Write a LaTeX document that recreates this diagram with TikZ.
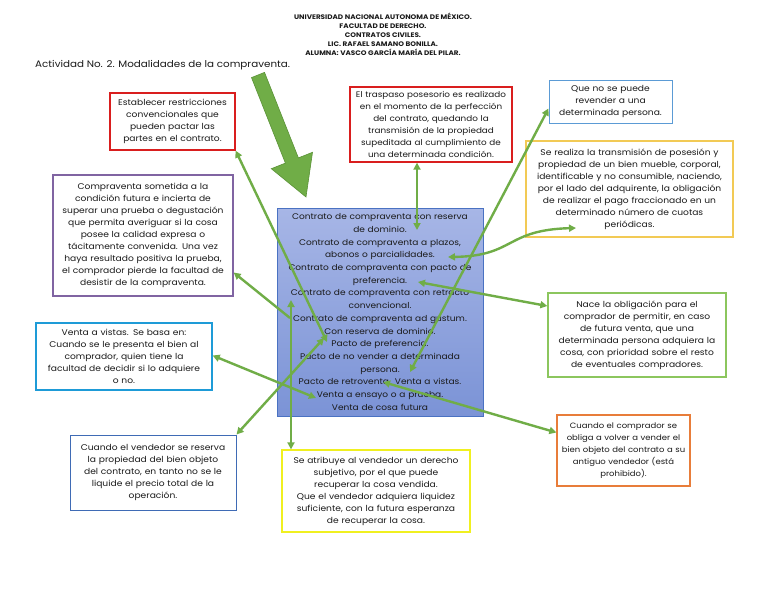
\documentclass[tikz,border=0pt]{standalone}
\usepackage{fontspec}
\setmainfont{Poppins}[FakeStretch=1.1]
\usetikzlibrary{arrows.meta,calc}
\definecolor{agreen}{HTML}{70AD47}
\definecolor{agreendark}{HTML}{5A9236}
\definecolor{cred}{HTML}{D91E1E}
\definecolor{cblue}{HTML}{5B9BD5}
\definecolor{cgold}{HTML}{F2CA55}
\definecolor{cpurple}{HTML}{8064A2}
\definecolor{cgreen}{HTML}{8CC65E}
\definecolor{ccyan}{HTML}{1E9BD7}
\definecolor{cnavy}{HTML}{3F6BB5}
\definecolor{cyellow}{HTML}{F0F020}
\definecolor{corange}{HTML}{E87D3A}
\definecolor{mtop}{HTML}{A7B6E6}
\definecolor{mbot}{HTML}{7B93D6}
\definecolor{mborder}{HTML}{4A72C2}
\definecolor{txt}{HTML}{1A1A1A}
\tikzset{
  box/.style={draw, line width=1.3pt, fill=white, rectangle, inner sep=1pt, align=center, text=txt,
    font=\fontsize{8.3}{12}\selectfont},
  conn/.style={draw=agreen, line width=2.4pt, {Triangle[length=7pt,width=7pt]}-{Triangle[length=7pt,width=7pt]}},
  conn1/.style={draw=agreen, line width=2.4pt, {Triangle[length=7pt,width=7pt]}-},
}
\begin{document}
\begin{tikzpicture}[x=1pt,y=-1pt]
\useasboundingbox (0,0) rectangle (768,594);
\fill[white] (0,0) rectangle (768,594);

\node[font=\bfseries\fontsize{6.6}{9}\selectfont, align=center, text=txt] (hdr) at (383,34)
 {UNIVERSIDAD NACIONAL AUTONOMA DE MÉXICO.\\FACULTAD DE DERECHO.\\CONTRATOS CIVILES.\\LIC. RAFAEL SAMANO BONILLA.\\ALUMNA: VASCO GARCÍA MARÍA DEL PILAR.};
\node[anchor=west, font=\fontsize{9.4}{11}\selectfont, text=txt, inner sep=0pt] (title) at (35,65)
 {Actividad No. 2. Modalidades de la compraventa.};

% big arrow
\filldraw[fill=agreen, draw=agreendark, line width=0.6pt]
 (264.5,72.4) -- (298.4,157.9) -- (312.5,152.3) -- (306,197) -- (271.3,168.7) -- (285.4,163.1) -- (251.5,77.6) -- cycle;

% boxes
\node[box, draw=cred, minimum width=125pt, minimum height=57pt, text width=123pt] (r1) at (172.5,121.5)
 {Establecer restricciones\\convencionales que\\pueden pactar las\\partes en el contrato.};
\node[box, draw=cred, minimum width=162pt, minimum height=75pt, text width=160pt, font=\fontsize{8}{12}\selectfont] (r2) at (431,124.5)
 {El traspaso posesorio es realizado\\en el momento de la perfección\\del contrato, quedando la\\transmisión de la propiedad\\supeditada al cumplimiento de\\una determinada condición.};
\node[box, draw=cblue, line width=1pt, minimum width=123pt, minimum height=43pt, text width=121pt] (b1) at (610.5,101.5)
 {Que no se puede\\revender a una\\determinada persona.};
\node[box, draw=cgold, minimum width=207pt, minimum height=96pt, text width=205pt] (y1) at (629.5,189)
 {Se realiza la transmisión de posesión y\\propiedad de un bien mueble, corporal,\\identificable y no consumible, naciendo,\\por el lado del adquirente, la obligación\\de realizar el pago fraccionado en un\\determinado número de cuotas\\periódicas.};
\node[box, draw=cpurple, minimum width=180pt, minimum height=121pt, text width=178pt] (p1) at (143,235.5)
 {Compraventa sometida a la\\condición futura e incierta de\\superar una prueba o degustación\\que permita averiguar si la cosa\\posee la calidad expresa o\\tácitamente convenida. Una vez\\haya resultado positiva la prueba,\\el comprador pierde la facultad de\\desistir de la compraventa.};
\node[box, draw=mborder, line width=0.8pt, top color=mtop, bottom color=mbot, minimum width=206pt, minimum height=208pt, text width=204pt,
  font=\fontsize{8.2}{12.7}\selectfont] (m) at (380,312)
 {Contrato de compraventa con reserva\\de dominio.\\Contrato de compraventa a plazos,\\abonos o parcialidades.\\Contrato de compraventa con pacto de\\preferencia.\\Contrato de compraventa con retracto\\convencional.\\Contrato de compraventa ad gustum.\\Con reserva de dominio.\\Pacto de preferencia.\\Pacto de no vender a determinada\\persona.\\Pacto de retroventa. Venta a vistas.\\Venta a ensayo o a prueba.\\Venta de cosa futura};
\node[box, draw=cgreen, minimum width=178pt, minimum height=84pt, text width=176pt] (g1) at (637,335)
 {Nace la obligación para el\\comprador de permitir, en caso\\de futura venta, que una\\determinada persona adquiera la\\cosa, con prioridad sobre el resto\\de eventuales compradores.};
\node[box, draw=ccyan, minimum width=176pt, minimum height=67pt, text width=174pt] (v1) at (124,356.5)
 {Venta a vistas. Se basa en:\\Cuando se le presenta el bien al\\comprador, quien tiene la\\facultad de decidir si lo adquiere\\o no.};
\node[box, draw=cnavy, line width=1pt, minimum width=166pt, minimum height=75pt, text width=164pt] (d1) at (153,472.5)
 {Cuando el vendedor se reserva\\la propiedad del bien objeto\\del contrato, en tanto no se le\\liquide el precio total de la\\operación.};
\node[box, draw=cyellow, minimum width=188pt, minimum height=82pt, text width=186pt] (y2) at (376,491)
 {Se atribuye al vendedor un derecho\\subjetivo, por el que puede\\recuperar la cosa vendida.\\Que el vendedor adquiera liquidez\\suficiente, con la futura esperanza\\de recuperar la cosa.};
\node[box, draw=corange, minimum width=133pt, minimum height=71pt, text width=131pt, font=\fontsize{7.7}{12}\selectfont] (o1) at (623.5,450.5)
 {Cuando el comprador se\\obliga a volver a vender el\\bien objeto del contrato a su\\antiguo vendedor (está\\prohibido).};

% connector end points in the central box
\coordinate (c1) at (327,342);
\coordinate (c2) at (417,230);
\coordinate (c3) at (410,372);
\coordinate (c4) at (448,257);
\coordinate (e4) at (576,228);
\coordinate (c5) at (290,318);
\coordinate (c6) at (418,282);
\coordinate (c7) at (316,398);
\coordinate (c8) at (324,338);
\coordinate (c9) at (291,300);
\coordinate (c10) at (383,382);

\draw[conn] (r1.south east) -- (c1);
\draw[conn] (c2 |- r2.south) -- (c2);
\draw[conn] ($(b1.west)+(0,7)$) -- (c3);
\draw[conn] (c4) .. controls (515,256) and (505,230) .. (e4);
\draw[conn1] ($(p1.east)+(0,37)$) -- (c5);
\draw[conn] ($(g1.west)+(0,-29)$) -- (c6);
\draw[conn] ($(v1.east)+(0,-1)$) -- (c7);
\draw[conn] (d1.north east) -- (c8);
\draw[conn] (c9 |- y2.north) -- (c9);
\draw[conn] ($(o1.west)+(0,-18)$) -- (c10);
\end{tikzpicture}
\end{document}
